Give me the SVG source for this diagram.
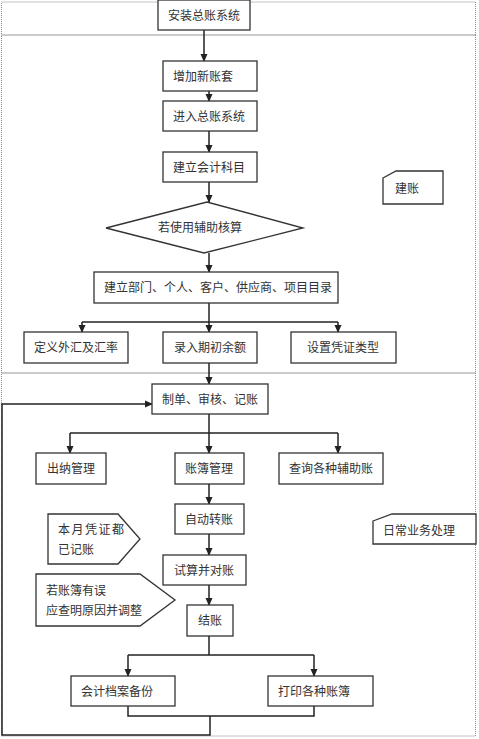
<svg xmlns="http://www.w3.org/2000/svg" width="479" height="739" viewBox="0 0 479 739">
<defs>
<marker id="ah" markerWidth="8" markerHeight="8" refX="7" refY="4" orient="auto" markerUnits="userSpaceOnUse">
<path d="M0,0.5 L8,4 L0,7.5 Z" fill="#222"/>
</marker>
</defs>
<style>
.bx{fill:#fff;stroke:#333;stroke-width:1.3}
.t{font-family:"Liberation Serif","Noto Sans CJK SC",serif;font-size:12px;fill:#333}
.tc{text-anchor:middle}
.ln{fill:none;stroke:#222;stroke-width:1.5}
.ar{fill:none;stroke:#222;stroke-width:1.5;marker-end:url(#ah)}
.dot{fill:none;stroke:#888;stroke-width:1;stroke-dasharray:1,1}
</style>
<rect width="479" height="739" fill="#fff"/>
<g id="regions">
<rect class="dot" x="1.5" y="2" width="474" height="33"/>
<rect class="dot" x="1.5" y="35" width="474" height="338"/>
<rect class="dot" x="1.5" y="373" width="474" height="363"/>
</g>
<g id="connectors">
<line class="ar" x1="204" y1="30" x2="204" y2="61"/>
<line class="ar" x1="209" y1="91" x2="209" y2="101"/>
<line class="ar" x1="209" y1="131" x2="209" y2="152"/>
<line class="ar" x1="209" y1="182" x2="209" y2="202"/>
<line class="ar" x1="209" y1="253" x2="209" y2="272"/>
<line class="ln" x1="209" y1="303" x2="209" y2="322"/>
<line class="ln" x1="82" y1="322" x2="338" y2="322"/>
<line class="ar" x1="82" y1="322" x2="82" y2="332"/>
<line class="ar" x1="209" y1="322" x2="209" y2="332"/>
<line class="ar" x1="338" y1="322" x2="338" y2="332"/>
<line class="ar" x1="209" y1="363" x2="209" y2="384"/>
<line class="ln" x1="209" y1="414" x2="209" y2="433"/>
<line class="ln" x1="70" y1="433" x2="338" y2="433"/>
<line class="ar" x1="70" y1="433" x2="70" y2="453"/>
<line class="ar" x1="209" y1="433" x2="209" y2="453"/>
<line class="ar" x1="338" y1="433" x2="338" y2="453"/>
<line class="ar" x1="209" y1="484" x2="209" y2="504"/>
<line class="ar" x1="209" y1="534" x2="209" y2="555"/>
<line class="ar" x1="209" y1="585" x2="209" y2="605"/>
<line class="ln" x1="209" y1="636" x2="209" y2="655"/>
<line class="ln" x1="128" y1="655" x2="314" y2="655"/>
<line class="ar" x1="128" y1="655" x2="128" y2="676"/>
<line class="ar" x1="314" y1="655" x2="314" y2="676"/>
<path class="ln" d="M128,706 V716 H314 V706"/>
<path class="ar" d="M210,716 V735 H2 V404 H152"/>
</g>
<g id="n1"><rect class="bx" x="158" y="0" width="92" height="30"/><text class="t tc" x="204" y="20">安装总账系统</text></g>
<g id="n2"><rect class="bx" x="163" y="61" width="94" height="30"/><text class="t" x="173" y="81">增加新账套</text></g>
<g id="n3"><rect class="bx" x="163" y="101" width="94" height="30"/><text class="t" x="173" y="121">进入总账系统</text></g>
<g id="n4"><rect class="bx" x="163" y="152" width="94" height="30"/><text class="t" x="173" y="172">建立会计科目</text></g>
<g id="n5"><polygon class="bx" points="106,228 207,202 303,228 204,253"/><text class="t tc" x="200" y="232">若使用辅助核算</text></g>
<g id="n6"><rect class="bx" x="94" y="272" width="244" height="31"/><text class="t" x="104" y="292">建立部门、个人、客户、供应商、项目目录</text></g>
<g id="n7"><rect class="bx" x="24" y="332" width="104" height="31"/><text class="t tc" x="76" y="352">定义外汇及汇率</text></g>
<g id="n8"><rect class="bx" x="163" y="332" width="94" height="31"/><text class="t tc" x="210" y="352">录入期初余额</text></g>
<g id="n9"><rect class="bx" x="291" y="332" width="105" height="31"/><text class="t tc" x="343" y="352">设置凭证类型</text></g>
<g id="n10"><rect class="bx" x="152" y="384" width="116" height="30"/><text class="t tc" x="210" y="404">制单、审核、记账</text></g>
<g id="n11"><rect class="bx" x="36" y="453" width="70" height="31"/><text class="t tc" x="71" y="473">出纳管理</text></g>
<g id="n12"><rect class="bx" x="175" y="453" width="69" height="31"/><text class="t tc" x="209" y="473">账簿管理</text></g>
<g id="n13"><rect class="bx" x="279" y="453" width="104" height="31"/><text class="t tc" x="331" y="473">查询各种辅助账</text></g>
<g id="n14"><rect class="bx" x="175" y="504" width="69" height="30"/><text class="t tc" x="209" y="524">自动转账</text></g>
<g id="n15"><rect class="bx" x="163" y="555" width="83" height="30"/><text class="t tc" x="204" y="575">试算并对账</text></g>
<g id="n16"><rect class="bx" x="187" y="605" width="46" height="31"/><text class="t tc" x="210" y="625">结账</text></g>
<g id="n17"><rect class="bx" x="71" y="676" width="104" height="30"/><text class="t" x="81" y="696">会计档案备份</text></g>
<g id="n18"><rect class="bx" x="268" y="676" width="105" height="30"/><text class="t" x="278" y="696">打印各种账簿</text></g>
<g id="c1"><polygon class="bx" points="48,514 118,514 140,539 118,564 48,564"/><text class="t" x="58" y="534" letter-spacing="1.5">本月凭证都</text><text class="t" x="58" y="554">已记账</text></g>
<g id="c2"><polygon class="bx" points="36,574 140,574 175,600 140,626 36,626"/><text class="t" x="46" y="595">若账簿有误</text><text class="t" x="46" y="615">应查明原因并调整</text></g>
<g id="l1"><polygon class="bx" points="383,178 396,171 443,171 443,204 383,204"/><text class="t" x="395" y="193" font-size="13">建账</text></g>
<g id="l2"><polygon class="bx" points="373,521 392,514 476,514 476,544 373,544"/><text class="t" x="383" y="535" font-size="13">日常业务处理</text></g>
</svg>
